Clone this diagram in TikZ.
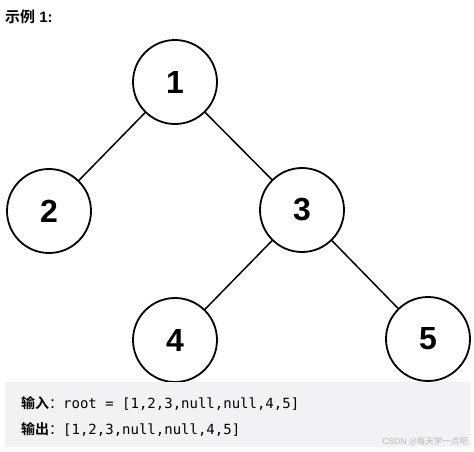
\documentclass[tikz,border=0pt]{standalone}
\usepackage{fontspec}
\setmainfont{Liberation Sans}
\setmonofont{DejaVu Sans Mono}
\newfontfamily\cjk{Noto Sans CJK SC}
\newfontfamily\cjkb{Noto Sans CJK SC Bold}
\definecolor{boxgray}{HTML}{F2F2F4}
\definecolor{wmgray}{HTML}{B8B8BC}
\begin{document}
\begin{tikzpicture}[x=1pt,y=-1pt,
  treenode/.style={circle,draw=black,line width=1.8pt,minimum size=84pt,inner sep=0pt,
    font=\fontsize{32}{34}\selectfont\bfseries},
  edge/.style={line width=1.5pt,draw=black}]
\useasboundingbox (0,0) rectangle (474,451);
\fill[white] (0,0) rectangle (474,451);
\node[anchor=west,inner sep=0pt,font=\fontsize{15}{17}\selectfont] (title) at (5,17) {{\cjkb 示例} \textbf{1:}};
\node[treenode] (n1) at (175,82) {1};
\node[treenode] (n2) at (49,211) {2};
\node[treenode] (n3) at (302,210) {3};
\node[treenode] (n4) at (175,340) {4};
\node[treenode] (n5) at (428,339) {5};
\draw[edge] (n1) -- (n2);
\draw[edge] (n1) -- (n3);
\draw[edge] (n3) -- (n4);
\draw[edge] (n3) -- (n5);
\fill[boxgray] (5,382) rectangle (471,447);
\node[anchor=west,inner sep=0pt,font=\fontsize{14}{16}\selectfont] (in) at (21,403) {{\cjkb 输入}{\cjk ：}\texttt{root = [1,2,3,null,null,4,5]}};
\node[anchor=west,inner sep=0pt,font=\fontsize{14}{16}\selectfont] (out) at (21,429) {{\cjkb 输出}{\cjk ：}\texttt{[1,2,3,null,null,4,5]}};
\node[anchor=east,inner sep=0pt,text=wmgray,font=\fontsize{8.5}{10}\selectfont] (wm) at (468,442) {CSDN {\cjk @每天学一点吧}};
\end{tikzpicture}
\end{document}
